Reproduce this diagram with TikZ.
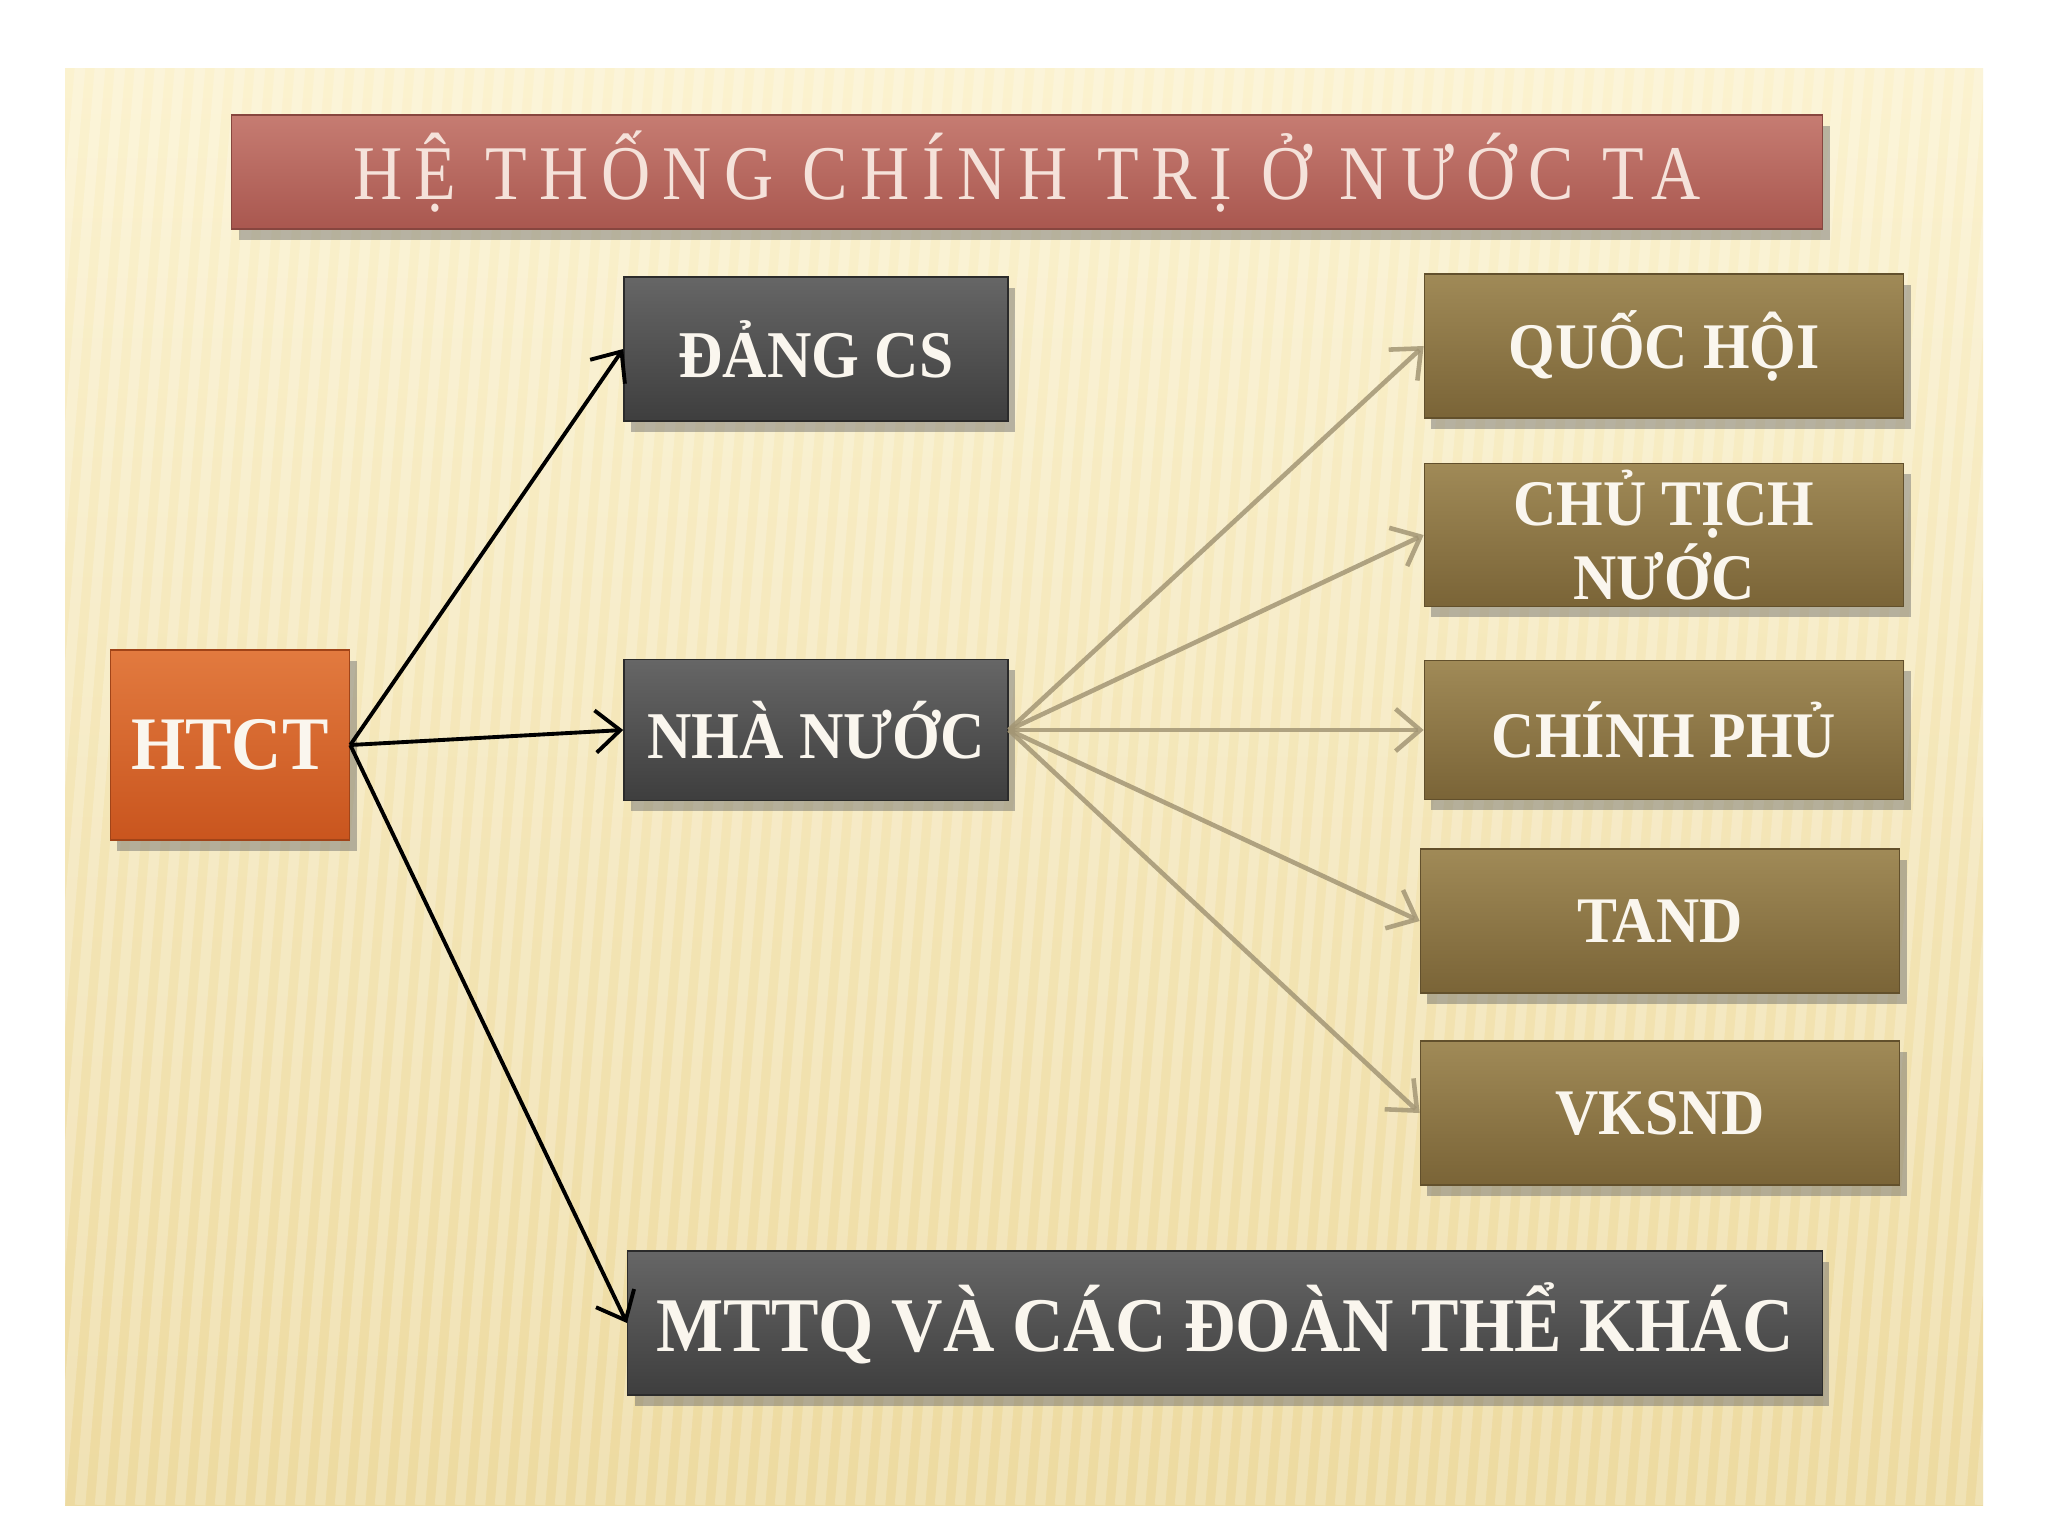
\documentclass[tikz,border=0pt]{standalone}
\usepackage{fontspec}
\setmainfont{Liberation Serif}
\newfontfamily\titlefont[LetterSpace=16,FakeStretch=0.88]{Liberation Serif}
\newfontfamily\boxfont[FakeStretch=0.92]{Liberation Serif}
\usetikzlibrary{arrows.meta,shadows}
\definecolor{bgtop}{HTML}{FBF2CF}
\definecolor{bgbot}{HTML}{EDDAA0}
\definecolor{titletop}{HTML}{C67C72}
\definecolor{titlebot}{HTML}{A9574F}
\definecolor{darktop}{HTML}{666666}
\definecolor{darkbot}{HTML}{3E3E3E}
\definecolor{olivetop}{HTML}{A08A57}
\definecolor{olivebot}{HTML}{7A6437}
\definecolor{orgtop}{HTML}{E27A3F}
\definecolor{orgbot}{HTML}{C9551E}
\definecolor{titletext}{HTML}{F5E2DA}
\definecolor{boxtext}{HTML}{FAF6EE}
\definecolor{grayarrow}{HTML}{A39675}
\tikzset{
  x=0.01cm, y=-0.01cm,
  basebox/.style={rectangle, inner sep=0pt, align=center, text=boxtext,
    drop shadow={shadow xshift=2pt, shadow yshift=-3pt, opacity=0.45, fill=black!60}},
  titlebox/.style={basebox, top color=titletop, bottom color=titlebot, draw=titlebot!80!black, text=titletext},
  darkbox/.style={basebox, top color=darktop, bottom color=darkbot, draw=darkbot!70!black,
    font=\boxfont\fontsize{19}{22}\selectfont\bfseries},
  olivebox/.style={basebox, top color=olivetop, bottom color=olivebot, draw=olivebot!80!black,
    font=\boxfont\fontsize{18.5}{21}\selectfont\bfseries},
  orangebox/.style={basebox, top color=orgtop, bottom color=orgbot, draw=orgbot!80!black,
    font=\boxfont\fontsize{21.5}{24}\selectfont\bfseries},
  blackarrow/.style={draw=black, line width=1.1pt, -{Straight Barb[length=7pt,width=12pt,line width=1.1pt]}},
  grayarrowstyle/.style={draw=grayarrow, opacity=0.85, line width=1.3pt, -{Straight Barb[length=7pt,width=12pt,line width=1.3pt]}},
}
\begin{document}
\begin{tikzpicture}
\useasboundingbox (0,0) rectangle (2048,1536);
\fill[white] (0,0) rectangle (2048,1536);
\shade[top color=bgtop, bottom color=bgbot] (65,68) rectangle (1983,1505);
\begin{scope}
\clip (65,68) rectangle (1983,1505);
\foreach \i in {0,...,110} {
  \draw[white, opacity=0.22, line width=3pt] (\i*20-100+120,68) -- (\i*20-100,1505);
}
\end{scope}

\node[titlebox, minimum width=15.9cm, minimum height=1.14cm] (title) at (1027,172)
  {\titlefont\fontsize{22}{26}\selectfont HỆ THỐNG CHÍNH TRỊ Ở NƯỚC TA};

\node[orangebox, minimum width=2.39cm, minimum height=1.90cm] (htct) at (230,745) {HTCT};

\node[darkbox, minimum width=3.84cm, minimum height=1.44cm] (dang) at (816,349) {ĐẢNG CS};
\node[darkbox, minimum width=3.84cm, minimum height=1.41cm] (nha) at (816,730) {NHÀ NƯỚC};
\node[darkbox, minimum width=11.94cm, minimum height=1.44cm, font=\boxfont\fontsize{22}{25}\selectfont\bfseries] (mttq) at (1225,1323) {MTTQ VÀ CÁC ĐOÀN THỂ KHÁC};

\node[olivebox, minimum width=4.79cm, minimum height=1.44cm] (qh) at (1664,346) {QUỐC HỘI};
\node[olivebox, minimum width=4.79cm, minimum height=1.43cm] (ct) at (1664,535) {CHỦ TỊCH\\NƯỚC};
\node[olivebox, minimum width=4.79cm, minimum height=1.39cm] (cp) at (1664,730) {CHÍNH PHỦ};
\node[olivebox, minimum width=4.79cm, minimum height=1.44cm] (tand) at (1660,921) {TAND};
\node[olivebox, minimum width=4.79cm, minimum height=1.44cm] (vksnd) at (1660,1113) {VKSND};

\draw[blackarrow] (htct.east) -- (dang.west);
\draw[blackarrow] (htct.east) -- (nha.west);
\draw[blackarrow] (htct.east) -- (mttq.west);

\foreach \t in {qh,ct,cp,tand,vksnd} {
  \draw[grayarrowstyle] (nha.east) -- (\t.west);
}
\end{tikzpicture}
\end{document}
